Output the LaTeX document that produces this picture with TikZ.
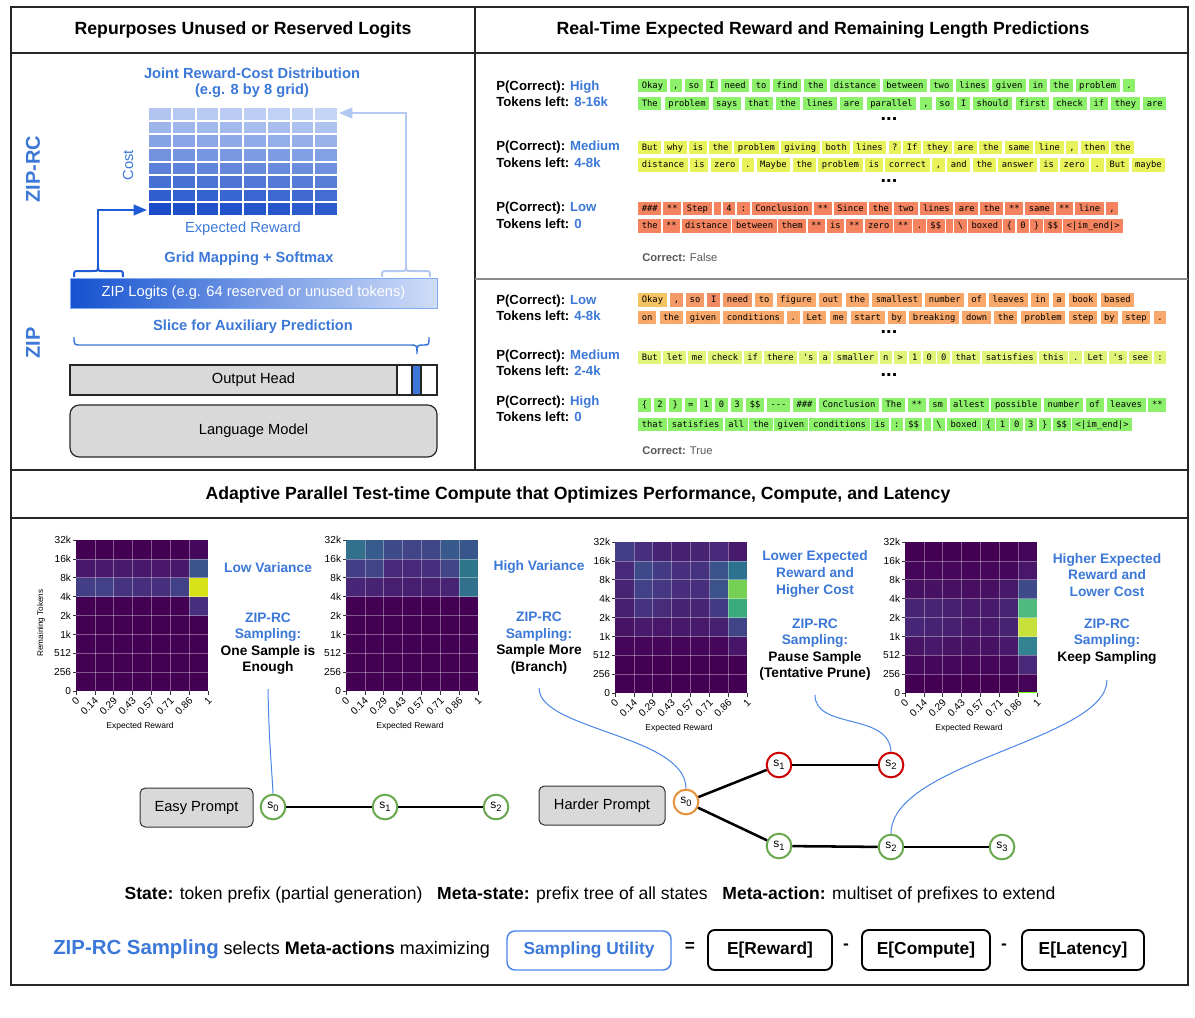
\documentclass[tikz,border=0pt]{standalone}
\usepackage{fontspec}
\setmainfont{Liberation Sans}
\newfontfamily\monof{DejaVu Sans Mono}
\usetikzlibrary{arrows.meta}
\setlength\fboxsep{0pt}
\definecolor{zblue}{HTML}{3C78D8}
\definecolor{cblue}{HTML}{4A86E8}
\definecolor{darkarrow}{HTML}{1F5BD6}
\definecolor{lightarrow}{HTML}{B4C9F2}
\definecolor{gdark}{HTML}{1A4CC8}
\definecolor{glight}{HTML}{C6D6F6}
\definecolor{zlone}{HTML}{1552D0}
\definecolor{zltwo}{HTML}{D0DDF8}
\definecolor{boxgrey}{HTML}{D9D9D9}
\definecolor{sgreen}{HTML}{6AA84F}
\definecolor{sorange}{HTML}{E69138}
\definecolor{sred}{HTML}{CC0000}
\definecolor{tgreen}{HTML}{8DF06A}
\definecolor{tyellow}{HTML}{E8F35C}
\definecolor{tred}{HTML}{F4845F}
\definecolor{torange}{HTML}{F7A86A}
\definecolor{tpale}{HTML}{E0F47A}
\definecolor{tokay}{HTML}{F5C563}
\definecolor{tortwo}{HTML}{F29A68}
\definecolor{torthree}{HTML}{EF8A62}
\def\tkc{tgreen}
\newcommand\tk[2][\tkc]{\colorbox{#1}{\rule[-2.8pt]{0pt}{9.9pt}\hspace{2.7pt}#2\hspace{2.7pt}}\hskip 1.8pt plus 4pt minus 1.8pt}
\newcommand\tokrow[3]{\hbox to \dimexpr#1pt*3/4\relax{\def\tkc{#2}\monof\fontsize{6.6}{7.5}\selectfont #3\unskip}}
\newcommand\pcor[1]{P(Correct): \textcolor{zblue}{#1}}
\newcommand\tleft[1]{Tokens left: \textcolor{zblue}{#1}}
\newcommand\ticksz{\fontsize{7.6}{8}\selectfont}
\newcommand\ssub[2]{#1\raisebox{-2.4pt}{\fontsize{7}{7}\selectfont #2}}
\newcommand\heatmap[4]{%
 \foreach \rowc [count=\ri from 0] in {#3} {
   \foreach \cc [count=\ci from 0] in \rowc {
     \definecolor{hmc}{HTML}{\cc}
     \fill[hmc] ({#1+\ci*18.9},{#2+\ri*18.9}) rectangle ++(18.95,18.95);
   }
 }
 \foreach \ci in {1,...,6} \draw[white, opacity=0.35, line width=0.6pt] ({#1+\ci*18.9},#2) -- ++(0,151.2);
 \foreach \ri in {1,...,7} \draw[white, opacity=0.35, line width=0.6pt] (#1,{#2+\ri*18.9}) -- ++(132.3,0);
 \foreach \tlab [count=\ri from 0] in {32k,16k,8k,4k,2k,1k,512,256,0} {
   \draw[black!80, line width=0.5pt] (#1,{#2+\ri*18.9}) -- ++(-3.5,0);
   \node[anchor=east, inner sep=0.5pt, font=\ticksz] at ({#1-4},{#2+\ri*18.9}) {\tlab};
 }
 \foreach \tlab [count=\ci from 0] in {0,0.14,0.29,0.43,0.57,0.71,0.86,1} {
   \draw[black!80, line width=0.5pt] ({#1+\ci*18.9},{#2+151.2}) -- ++(0,3.5);
   \node[anchor=east, rotate=45, inner sep=0.3pt, font=\ticksz] at ({#1+\ci*18.9+2},{#2+151.2+7}) {\tlab};
 }
 \node[inner sep=0, font=\fontsize{6.4}{7}\selectfont] (#4) at ({#1+64},{#2+186}) {Expected Reward};
}
\begin{document}
\begin{tikzpicture}[x=0.75pt,y=-0.75pt,
  hdr/.style={inner sep=0, font=\fontsize{13.25}{15}\selectfont\bfseries},
  bb/.style={inner sep=0, text=zblue, font=\fontsize{11}{13}\selectfont\bfseries},
  lab/.style={anchor=west, inner sep=0, font=\fontsize{9.9}{11}\selectfont\bfseries},
  trow/.style={anchor=west, inner sep=0},
  dots/.style={inner sep=0, font=\fontsize{15}{15}\selectfont\bfseries},
  corr/.style={anchor=west, inner sep=0, text=black!65, font=\fontsize{8.4}{10}\selectfont},
  ann/.style={inner sep=0, align=center, font=\fontsize{10.3}{12.4}\selectfont\bfseries},
  state/.style={circle, draw, line width=1.5pt, fill=white, minimum size=18.5pt, inner sep=0, font=\fontsize{9}{10}\selectfont},
  edge/.style={line width=1.9pt},
  callout/.style={cblue, line width=0.75pt},
  prompt/.style={draw=black!80, fill=boxgrey, rounded corners=4pt, minimum height=29.25pt, font=\fontsize{11}{13}\selectfont, line width=0.75pt, inner sep=0},
  eqbox/.style={draw=black, line width=1.4pt, rounded corners=5pt, minimum height=30pt, inner sep=0, font=\fontsize{13}{15}\selectfont\bfseries},
  opsign/.style={inner sep=0, font=\fontsize{13}{15}\selectfont\bfseries},
  frame/.style={line width=0.9pt, black!85},
  bigbox/.style={draw=black!85, line width=0.9pt, fill=boxgrey, minimum width=275.25pt, inner sep=0, font=\fontsize{11}{13}\selectfont}
]
\useasboundingbox (0,0) rectangle (1195,1017);
\fill[white] (0,0) rectangle (1195,1017);

% ---------- frames ----------
\draw[frame] (11,7) rectangle (1188,985);
\draw[frame] (11,53) -- (1188,53);
\draw[frame] (475,7) -- (475,470);
\draw[line width=0.9pt, black!45] (475,279) -- (1188,279);
\draw[frame] (11,470) -- (1188,470);
\draw[frame] (11,518) -- (1188,518);

\node[hdr] (h1) at (243,30) {Repurposes Unused or Reserved Logits};
\node[hdr] (h2) at (823,30) {Real-Time Expected Reward and Remaining Length Predictions};
\node[hdr] (h3) at (578,495) {Adaptive Parallel Test-time Compute that Optimizes Performance, Compute, and Latency};

% ---------- top-left panel ----------
\node[rotate=90, inner sep=0, text=zblue, font=\fontsize{15}{17}\selectfont\bfseries] (ziprc) at (33,169) {ZIP-RC};
\node[rotate=90, inner sep=0, text=zblue, font=\fontsize{15}{17}\selectfont\bfseries] (zip) at (33,343) {ZIP};

\node[bb] (jrc) at (252,73) {Joint Reward-Cost Distribution};
\node[bb] (eg) at (252,91) {(e.g. 8 by 8 grid)};
\foreach \ri in {0,...,7} \foreach \ci in {0,...,7} {
  \pgfmathtruncatemacro\tt{12+\ri*12.5-\ci*1.5}
  \fill[gdark!\tt!glight] ({148+\ci*23.75+1},{107+\ri*13.625+1}) rectangle ++(21.75,11.625);
}
\node[rotate=90, inner sep=0, text=zblue, font=\fontsize{11}{13}\selectfont] (cost) at (128,165) {Cost};
\node[inner sep=0, text=zblue, font=\fontsize{11}{13}\selectfont] (erw) at (243,229) {Expected Reward};
\node[bb] (gm) at (249,259) {Grid Mapping + Softmax};

\draw[darkarrow, line width=1.5pt] (74,277) .. controls (74,271) .. (79,271) -- (93,271) .. controls (98,271) .. (98,266) .. controls (98,271) .. (103,271) -- (118,271) .. controls (123,271) .. (123,277);
\draw[lightarrow, line width=1.5pt] (382,277) .. controls (382,271) .. (387,271) -- (401,271) .. controls (406,271) .. (406,266) .. controls (406,271) .. (411,271) -- (425,271) .. controls (430,271) .. (430,277);
\coordinate (bta) at (98,266);
\coordinate (gla) at (147,210);
\coordinate (btb) at (406,266);
\coordinate (glb) at (339,113);
\draw[darkarrow, line width=1.5pt, -{Triangle[length=10pt,width=8pt]}] (bta) |- (gla);
\draw[lightarrow, line width=1.5pt, -{Triangle[length=10pt,width=8pt]}] (btb) |- (glb);

\node[draw=cblue!70, line width=0.75pt, left color=zlone, right color=zltwo, minimum width=275.25pt, minimum height=22.5pt, inner sep=0, text=white, font=\fontsize{11}{13}\selectfont] (zl) at (253.5,293) {ZIP Logits (e.g. 64 reserved or unused tokens)};
\node[bb] (sl) at (253,327) {Slice for Auxiliary Prediction};
\draw[zblue, line width=1.1pt] (74,337) .. controls (74,345) .. (81,345) -- (410,345) .. controls (417,345) .. (417,354) .. controls (417,345) .. (424,345) .. controls (429,345) .. (429,337);

\node[bigbox, minimum height=22.5pt] (oh) at (253.5,380) {Output Head};
\fill[white] (397,365) rectangle (437,395);
\fill[zblue] (412,365) rectangle (421,395);
\draw[line width=0.9pt, black!85] (397,365) -- (397,395) (412,365) -- (412,395) (421,365) -- (421,395) (70,365) rectangle (437,395);
\node[bigbox, minimum height=39pt, rounded corners=7pt] (lm) at (253.5,431) {Language Model};

% ---------- top-right panel ----------
\node[lab] (p1) at (496,86.7) {\pcor{High}};
\node[lab] (t1) at (496,101.7) {\tleft{8-16k}};
\node[lab] (p2) at (496,146.7) {\pcor{Medium}};
\node[lab] (t2) at (496,162.7) {\tleft{4-8k}};
\node[lab] (p3) at (496,207.7) {\pcor{Low}};
\node[lab] (t3) at (496,224) {\tleft{0}};
\node[lab] (p4) at (496,300.7) {\pcor{Low}};
\node[lab] (t4) at (496,316) {\tleft{4-8k}};
\node[lab] (p5) at (496,356) {\pcor{Medium}};
\node[lab] (t5) at (496,371) {\tleft{2-4k}};
\node[lab] (p6) at (496,401.7) {\pcor{High}};
\node[lab] (t6) at (496,417) {\tleft{0}};

\node[trow] (r1) at (638,85.7) {\tokrow{497}{tgreen}{\tk{Okay}\tk{,}\tk{so}\tk{I}\tk{need}\tk{to}\tk{find}\tk{the}\tk{distance}\tk{between}\tk{two}\tk{lines}\tk{given}\tk{in}\tk{the}\tk{problem}\tk{.}}};
\node[trow] (r2) at (638,103.3) {\tokrow{528}{tgreen}{\tk{The}\tk{problem}\tk{says}\tk{that}\tk{the}\tk{lines}\tk{are}\tk{parallel}\tk{,}\tk{so}\tk{I}\tk{should}\tk{first}\tk{check}\tk{if}\tk{they}\tk{are}}};
\node[dots] (d1) at (889,119) {...};
\node[trow] (r3) at (638,147.3) {\tokrow{496}{tyellow}{\tk{But}\tk{why}\tk{is}\tk{the}\tk{problem}\tk{giving}\tk{both}\tk{lines}\tk{?}\tk{If}\tk{they}\tk{are}\tk{the}\tk{same}\tk{line}\tk{,}\tk{then}\tk{the}}};
\node[trow] (r4) at (638,165) {\tokrow{527}{tyellow}{\tk{distance}\tk{is}\tk{zero}\tk{.}\tk{Maybe}\tk{the}\tk{problem}\tk{is}\tk{correct}\tk{,}\tk{and}\tk{the}\tk{answer}\tk{is}\tk{zero}\tk{.}\tk{But}\tk{maybe}}};
\node[dots] (d2) at (889,181.5) {...};
\node[trow] (r5) at (638,208.3) {\tokrow{480}{tred}{\tk{\#\#\#}\tk{**}\tk{Step}\tk{}\tk{4}\tk{:}\tk{Conclusion}\tk{**}\tk{Since}\tk{the}\tk{two}\tk{lines}\tk{are}\tk{the}\tk{**}\tk{same}\tk{**}\tk{line}\tk{,}}};
\node[trow] (r6) at (638,226) {\tokrow{485}{tred}{\tk{the}\tk{**}\tk{distance}\tk{between}\tk{them}\tk{**}\tk{is}\tk{**}\tk{zero}\tk{**}\tk{.}\tk{\$\$}\tk{}\tk{\textbackslash}\tk{boxed}\tk{\{}\tk{0}\tk{\}}\tk{\$\$}\tk{<|im\_end|>}}};
\node[corr] (cf) at (642,257.3) {\textbf{Correct:} False};

\node[trow] (r7) at (638,300) {\tokrow{496}{torange}{\tk[tokay]{Okay}\tk[tortwo]{,}\tk[tortwo]{so}\tk[torthree]{I}\tk[tortwo]{need}\tk{to}\tk{figure}\tk{out}\tk{the}\tk{smallest}\tk{number}\tk{of}\tk{leaves}\tk{in}\tk{a}\tk{book}\tk{based}}};
\node[trow] (r8) at (638,317.7) {\tokrow{528}{torange}{\tk{on}\tk{the}\tk{given}\tk{conditions}\tk{.}\tk{Let}\tk{me}\tk{start}\tk{by}\tk{breaking}\tk{down}\tk{the}\tk{problem}\tk{step}\tk{by}\tk{step}\tk{.}}};
\node[dots] (d3) at (889,332.5) {...};
\node[trow] (r9) at (638,357.7) {\tokrow{528}{tpale}{\tk{But}\tk{let}\tk{me}\tk{check}\tk{if}\tk{there}\tk{\textquotesingle s}\tk{a}\tk{smaller}\tk{n}\tk{>}\tk{1}\tk{0}\tk{0}\tk{that}\tk{satisfies}\tk{this}\tk{.}\tk{Let}\tk{\textquotesingle s}\tk{see}\tk{:}}};
\node[dots] (d4) at (889,375.5) {...};
\node[trow] (r10) at (638,405) {\tokrow{528}{tgreen}{\tk{\{}\tk{2}\tk{\}}\tk{=}\tk{1}\tk{0}\tk{3}\tk{\$\$}\tk{-{}-{}-}\tk{\#\#\#}\tk{Conclusion}\tk{The}\tk{**}\tk{sm}\tk{allest}\tk{possible}\tk{number}\tk{of}\tk{leaves}\tk{**}}};
\node[trow] (r11) at (638,424.3) {\tokrow{494}{tgreen}{\tk{that}\tk{satisfies}\tk{all}\tk{the}\tk{given}\tk{conditions}\tk{is}\tk{:}\tk{\$\$}\tk{}\tk{\textbackslash}\tk{boxed}\tk{\{}\tk{1}\tk{0}\tk{3}\tk{\}}\tk{\$\$}\tk{<|im\_end|>}}};
\node[corr] (ct) at (642,451) {\textbf{Correct:} True};

% ---------- heatmaps ----------
\heatmap{76}{540}{{440154,440154,440154,440154,440154,440154,46085C},{48186A,481B6D,481A6C,48186A,481769,48186A,3B528B},{433E85,424086,46337F,472F7D,472F7D,424086,D8E219},{440154,440154,440154,440154,440154,440154,472F7D},{440154,440154,440154,440154,440154,440154,440154},{440154,440154,440154,440154,440154,440154,440154},{440154,440154,440154,440154,440154,440154,440154},{440154,440154,440154,440154,440154,440154,440154}}{erA}
\heatmap{346}{540}{{33708D,375B8D,3E4A89,414487,3F4788,38598C,39568C},{433E85,414487,482878,482878,472F7D,414487,2E768A},{482576,482374,481F70,481F70,481F70,482475,32708E},{440154,440154,440154,440154,440154,440154,440154},{440154,440154,440154,440154,440154,440154,440154},{440154,440154,440154,440154,440154,440154,440154},{440154,440154,440154,440154,440154,440154,440154},{440154,440154,440154,440154,440154,440154,440154}}{erB}
\heatmap{615}{542}{{433E85,472F7D,482374,481F70,482374,482878,481A6C},{482878,3E4989,443983,472F7D,46337F,3B528B,2C728E},{482475,424086,453781,472D7B,472F7D,3B528B,75D054},{481F70,46337F,472C7A,482374,482475,443A83,3BAB7E},{471365,481A6C,481769,48186A,481A6C,482071,414487},{450559,450559,450559,450559,450559,46075A,481668},{440154,440154,440154,440154,440154,440154,440154},{440154,440154,440154,440154,440154,440154,440154}}{erC}
\heatmap{905}{542}{{440154,440154,440154,440154,440154,440154,450559},{450559,46075A,46075A,450559,46075A,46085C,481769},{471063,471164,471063,470E61,471063,48186A,3E4A89},{482475,482475,481F70,481A6C,481A6C,482475,50B97D},{482677,482374,481F70,48186A,48186A,482374,C8E03C},{471365,48186A,471365,471164,471164,48186A,328291},{46085C,46085C,46085C,450559,450559,46085C,482878},{440154,440154,440154,440154,440154,440154,450457}}{erD}
\fill[green!60!yellow] ({905+6*18.9},{542+151.2-1.6}) rectangle ++(18.9,1.6);
\node[rotate=90, inner sep=0, font=\fontsize{6.1}{7}\selectfont] (rt) at (41,623) {Remaining Tokens};

% ---------- annotations ----------
\node[ann, text=zblue] (lv) at (268,568) {Low Variance};
\node[ann] (za) at (268,643.5) {\textcolor{zblue}{ZIP-RC}\\\textcolor{zblue}{Sampling:}\\One Sample is\\Enough};
\node[ann, text=zblue] (hv) at (539,567) {High Variance};
\node[ann] (zb) at (539,643) {\textcolor{zblue}{ZIP-RC}\\\textcolor{zblue}{Sampling:}\\Sample More\\(Branch)};
\node[ann, text=zblue] (le) at (815,574) {Lower Expected\\Reward and\\Higher Cost};
\node[ann] (zc) at (815,649.5) {\textcolor{zblue}{ZIP-RC}\\\textcolor{zblue}{Sampling:}\\Pause Sample\\(Tentative Prune)};
\node[ann, text=zblue] (he) at (1107,575) {Higher Expected\\Reward and\\Lower Cost};
\node[ann] (zd) at (1107,641.3) {\textcolor{zblue}{ZIP-RC}\\\textcolor{zblue}{Sampling:}\\Keep Sampling};

% ---------- trees ----------
\node[prompt, minimum width=84.75pt] (ep) at (196.5,807.5) {Easy Prompt};
\node[prompt, minimum width=94.5pt] (hp) at (602,805.5) {Harder Prompt};
\node[state, draw=sgreen] (a0) at (273,807) {\ssub{s}{0}};
\node[state, draw=sgreen] (a1) at (385,807) {\ssub{s}{1}};
\node[state, draw=sgreen] (a2) at (496,807) {\ssub{s}{2}};
\node[state, draw=sorange] (b0) at (686,802) {\ssub{s}{0}};
\node[state, draw=sred] (u1) at (779,765) {\ssub{s}{1}};
\node[state, draw=sred] (u2) at (891,765) {\ssub{s}{2}};
\node[state, draw=sgreen] (c1) at (779,846) {\ssub{s}{1}};
\node[state, draw=sgreen] (c2) at (891,847) {\ssub{s}{2}};
\node[state, draw=sgreen] (c3) at (1002,847) {\ssub{s}{3}};
\draw[edge] (a0) -- (a1);
\draw[edge] (a1) -- (a2);
\draw[edge] (b0) -- (u1);
\draw[edge] (u1) -- (u2);
\draw[edge] (b0) -- (c1);
\draw[edge] (c1) -- (c2);
\draw[edge] (c2) -- (c3);

\coordinate (ka) at (268,689);
\coordinate (kb) at (539,688);
\coordinate (kc) at (815,695);
\coordinate (kd) at (1107,680);
\draw[callout] (ka) .. controls (269,745) and (272,770) .. (a0.north);
\draw[callout] (kb) .. controls (539,730) and (686,735) .. (b0.north);
\draw[callout] (kc) .. controls (815,730) and (889,712) .. (u2.north);
\draw[callout] (kd) .. controls (1107,740) and (891,762) .. (c2.north);

% ---------- bottom ----------
\node[inner sep=0, font=\fontsize{13.15}{15}\selectfont] (st) at (590,895) {\textbf{State:} token prefix (partial generation)\hspace{11pt}\textbf{Meta-state:} prefix tree of all states\hspace{11pt}\textbf{Meta-action:} multiset of prefixes to extend};
\node[anchor=west, inner sep=0, font=\fontsize{13.5}{15}\selectfont] (zsel) at (53,949) {\textcolor{zblue}{\fontsize{15.3}{17}\selectfont\bfseries ZIP-RC Sampling} selects \textbf{Meta-actions} maximizing};
\node[draw=cblue, line width=1.1pt, rounded corners=6pt, minimum width=123pt, minimum height=29.25pt, inner sep=0, text=zblue, font=\fontsize{13}{15}\selectfont\bfseries] (su) at (589,950.5) {Sampling Utility};
\node[opsign] (eq) at (690,947) {=};
\node[eqbox, minimum width=93pt] (er) at (770,950) {E[Reward]};
\node[opsign] (mi) at (846,947) {-};
\node[eqbox, minimum width=96pt] (ec) at (926,950) {E[Compute]};
\node[opsign] (mii) at (1004,947) {-};
\node[eqbox, minimum width=91.5pt] (el) at (1083,950) {E[Latency]};
\end{tikzpicture}
\end{document}
